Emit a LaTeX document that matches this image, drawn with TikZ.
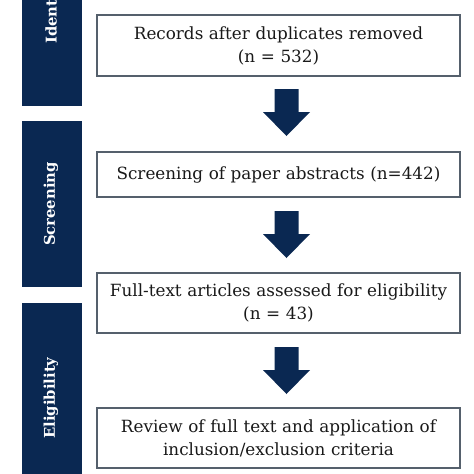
\documentclass[tikz,border=0pt]{standalone}
\usepackage{fontspec}
\setmainfont{DejaVu Serif}
\definecolor{navy}{RGB}{10,40,82}
\definecolor{boxline}{RGB}{85,96,108}
\definecolor{txt}{RGB}{25,25,25}
\begin{document}
\begin{tikzpicture}[x=1pt,y=-1pt,
  stagebox/.style={draw=boxline,line width=1.8pt,fill=white,minimum width=363pt,text width=360pt,align=center,inner sep=0pt,font=\fontsize{16.8}{23}\selectfont,text=txt},
  sidebar/.style={fill=navy},
  sidelabel/.style={rotate=90,text=white,inner sep=0pt,font=\fontsize{14.8}{16}\selectfont\bfseries},
  blockarrow/.pic={\fill[navy] (-12,0) -- (12,0) -- (12,23) -- (23.5,23) -- (0,47) -- (-23.5,23) -- (-12,23) -- cycle;}]
\useasboundingbox (0,0) rectangle (474,474);
\clip (0,0) rectangle (474,474);
\fill[white] (0,0) rectangle (474,474);
% side bars
\fill[sidebar] (22,-60) rectangle (82,106);
\fill[sidebar] (22,121) rectangle (82,287);
\fill[sidebar] (22,303) rectangle (82,480);
\node[sidelabel,anchor=west] (lid) at (51,44) {Identification};
\node[sidelabel] (lsc) at (51,204) {Screening};
\node[sidelabel] (lel) at (51,398) {Eligibility};
% boxes
\node[stagebox,minimum height=61pt] (b1) at (278.5,45.5) {Records after duplicates removed\\(n = 532)};
\node[stagebox,minimum height=45pt] (b2) at (278.5,174.5) {Screening of paper abstracts (n=442)};
\node[stagebox,minimum height=60pt] (b3) at (278.5,303) {Full-text articles assessed for eligibility\\(n = 43)};
\node[stagebox,minimum height=60pt] (b4) at (278.5,438) {Review of full text and application of\\inclusion/exclusion criteria};
% arrows
\pic at (286.5,89) {blockarrow};
\pic at (286.5,211) {blockarrow};
\pic at (286.5,347) {blockarrow};
\end{tikzpicture}
\end{document}
